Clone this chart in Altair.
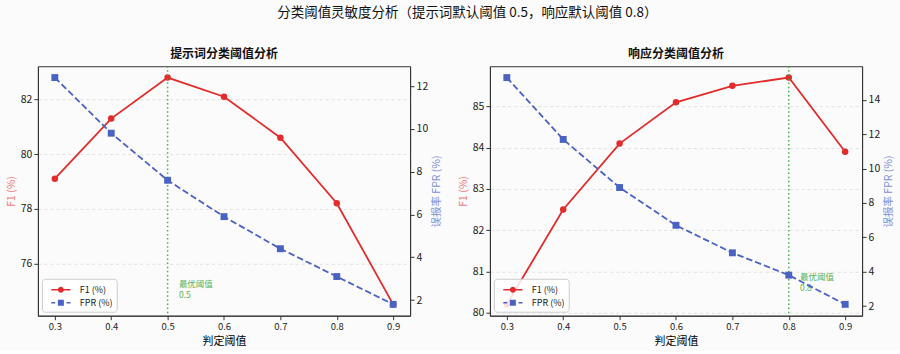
import altair as alt
import pandas as pd

# ---------------- data ----------------
thresholds = [0.3, 0.4, 0.5, 0.6, 0.7, 0.8, 0.9]
prompt_f1 = [79.1, 81.3, 82.8, 82.1, 80.6, 78.2, 74.5]
prompt_fpr = [12.4, 9.8, 7.6, 5.9, 4.4, 3.1, 1.8]
resp_f1 = [80.2, 82.5, 84.1, 85.1, 85.5, 85.7, 83.9]
resp_fpr = [15.3, 11.7, 8.9, 6.7, 5.1, 3.8, 2.1]

main_title = "分类阈值灵敏度分析（提示词默认阈值 0.5，响应默认阈值 0.8）"
panel_titles = ["提示词分类阈值分析", "响应分类阈值分析"]
best_thr = [0.5, 0.8]
annot_f1 = [75.4, 80.97]
f1_ticks = [[76, 78, 80, 82], [80, 81, 82, 83, 84, 85]]
fpr_ticks = [[2, 4, 6, 8, 10, 12], [2, 4, 6, 8, 10, 12, 14]]
x_ticks = [0.3, 0.4, 0.5, 0.6, 0.7, 0.8, 0.9]
series_names = ["F1 (%)", "FPR (%)"]
annot_label = "最优阈值"

# ---------------- style ----------------
FONT = "Noto Sans CJK SC"
RED = "#e32b2b"
BLUE = "#4a62c2"
GREEN = "#3aa63a"
RED_T = "#f07a7a"
BLUE_T = "#7f8fd8"
BG = "#fbfbfb"

PATH_F1 = ("M-1.6,-0.13H-0.45V0.13H-1.6Z M0.45,-0.13H1.6V0.13H0.45Z "
           "M0.5,0A0.5,0.5 0 1,1 -0.5,0A0.5,0.5 0 1,1 0.5,0Z")
PATH_FPR = ("M-1.6,-0.13H-0.95V0.13H-1.6Z M0.95,-0.13H1.6V0.13H0.95Z "
            "M-0.5,-0.5H0.5V0.5H-0.5Z")


def padded(vals):
    lo, hi = min(vals), max(vals)
    m = 0.05 * (hi - lo)
    return [lo - m, hi + m]


def make_legend():
    return alt.Legend(title=None, orient="bottom-left", offset=4,
                      symbolSize=144, symbolOffset=8, labelOffset=12,
                      labelFont=FONT, labelFontSize=9, labelColor="#222",
                      rowPadding=1, padding=4,
                      fillColor="rgba(255,255,255,0.85)",
                      strokeColor="#cccccc", cornerRadius=3)


def panel(i, f1, fpr):
    df = pd.DataFrame({"threshold": thresholds, "f1": f1, "fpr": fpr})
    x = alt.X("threshold:Q",
              scale=alt.Scale(domain=padded(thresholds), nice=False, zero=False),
              axis=alt.Axis(values=x_ticks, format=".1f", title="判定阈值", grid=False,
                            labelFontSize=9.5, titleFontSize=11))
    y_f1 = alt.Y("f1:Q",
                 scale=alt.Scale(domain=padded(f1), nice=False, zero=False),
                 axis=alt.Axis(orient="left", values=f1_ticks[i], title="F1 (%)",
                               titleColor=RED_T, grid=True, gridDash=[3, 3],
                               gridColor="#dadada", gridWidth=0.8))
    y_fpr = alt.Y("fpr:Q",
                  scale=alt.Scale(domain=padded(fpr), nice=False, zero=False),
                  axis=alt.Axis(orient="right", values=fpr_ticks[i], title="误报率 FPR (%)",
                                titleColor=BLUE_T, grid=False, titleAngle=270,
                                titleBaseline="top"))
    base = alt.Chart(df)

    f1_line = base.mark_line(color=RED, strokeWidth=1.8).encode(x=x, y=y_f1)
    f1_pts = base.mark_point(filled=True, shape="circle", size=42, color=RED,
                             opacity=1).encode(x=x, y=y_f1)

    rule_df = pd.DataFrame({"threshold": [best_thr[i]]})
    rule = alt.Chart(rule_df).mark_rule(color=GREEN, strokeWidth=1.5,
                                        strokeDash=[1.5, 2.6], opacity=0.9).encode(x=x)

    txt_df = pd.DataFrame({"threshold": [best_thr[i] + 0.02], "f1": [annot_f1[i]],
                           "label": [f"{annot_label}\n{best_thr[i]}"]})
    txt = alt.Chart(txt_df).mark_text(align="left", baseline="top", lineBreak="\n",
                                      lineHeight=11, color=GREEN, fontSize=8.5, font=FONT,
                                      opacity=0.85).encode(x=x, y=y_f1, text="label:N")

    legend_layer = base.mark_point(filled=True, opacity=1).transform_calculate(
        series="'F1 (%)'"
    ).transform_filter("datum.threshold > 5").encode(
        x=x, y=y_f1,
        color=alt.Color("series:N",
                        scale=alt.Scale(domain=series_names, range=[RED, BLUE]),
                        legend=make_legend()),
        shape=alt.Shape("series:N",
                        scale=alt.Scale(domain=series_names, range=[PATH_F1, PATH_FPR]),
                        legend=make_legend()),
    )

    fpr_line = base.mark_line(color=BLUE, strokeWidth=1.8, strokeDash=[6.5, 3]).encode(x=x, y=y_fpr)
    fpr_pts = base.mark_point(filled=True, shape="square", size=48, color=BLUE,
                              opacity=1).encode(x=x, y=y_fpr)

    f1_group = alt.layer(f1_line, f1_pts, rule, txt, legend_layer)
    fpr_group = alt.layer(fpr_line, fpr_pts)
    return alt.layer(f1_group, fpr_group).resolve_scale(y="independent").properties(
        width=373, height=250,
        title=alt.TitleParams(panel_titles[i], fontSize=12, offset=5, anchor="middle",
                              font=FONT, fontWeight="bold", color="#111"),
    )


p1 = panel(0, prompt_f1, prompt_fpr)
p2 = panel(1, resp_f1, resp_fpr)

chart = alt.hconcat(p1, p2, spacing=14).resolve_scale(
    color="independent", shape="independent"
).properties(
    title=alt.TitleParams(main_title, fontSize=13.5, anchor="start", dx=272,
                          offset=28, font=FONT, fontWeight="normal", color="#111"),
    padding={"left": 5, "right": 5, "top": 5, "bottom": 4},
    background=BG,
).configure_view(
    stroke="#333", strokeWidth=1
).configure_axis(
    labelFont=FONT, titleFont=FONT, labelFontSize=10.5, titleFontSize=10.5,
    titleFontWeight="normal", domainColor="#333", tickColor="#333", tickSize=4,
    labelColor="#222", labelPadding=2, titlePadding=4, domainWidth=1
)

chart.save("out.html", embed_options={"renderer": "svg", "actions": False})
